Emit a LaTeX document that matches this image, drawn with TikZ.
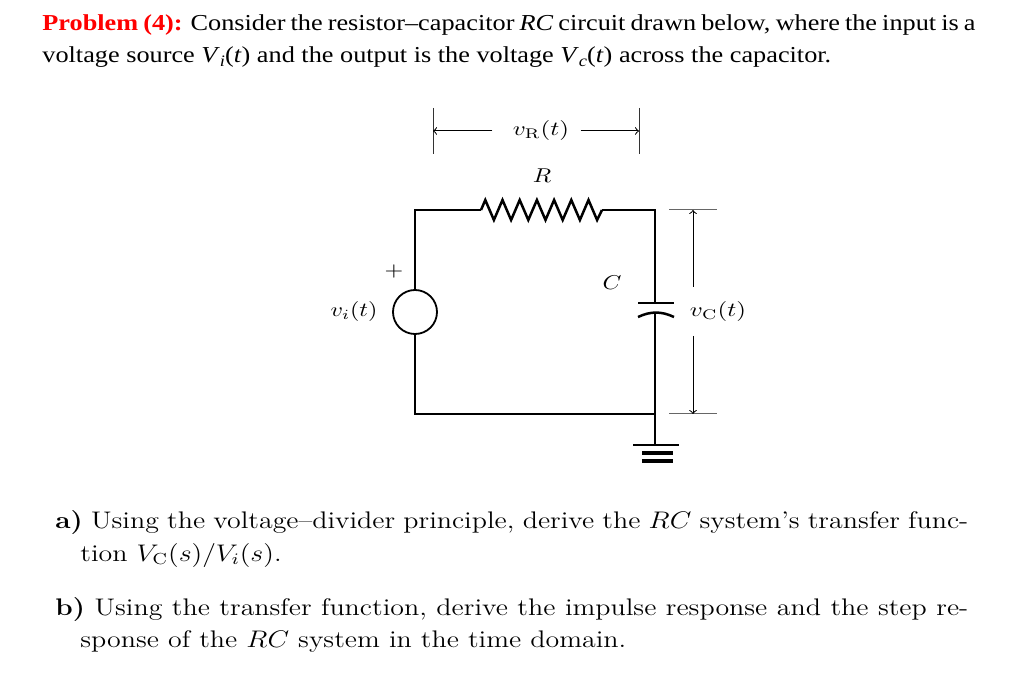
\documentclass[tikz,border=0pt]{standalone}
\usepackage{fontspec}
\usepackage{graphicx}
\usepackage{xcolor}
\usepackage{tikz}
\usepackage{amssymb}
\usepackage{mathtools}
\newfontfamily\headfont{Liberation Serif}
\newcommand\hv[1]{\textit{V}\raisebox{-0.3ex}{\fontsize{8}{8}\selectfont\textit{#1}}(\textit{t})}

\begin{document}
\begin{tikzpicture}[x=0.5pt,y=-0.5pt,
                        wire/.style={line width=1.25pt},
                        dim/.style={line width=0.5pt},
                        lbl/.style={inner sep=0pt, font=\fontsize{10}{12}\selectfont},
                        head/.style={anchor=base west, inner sep=0pt, font=\headfont\fontsize{11.4}{14}\selectfont},
                        txt/.style={anchor=base west, inner sep=0pt, font=\fontsize{12}{14}\selectfont}]
                        \useasboundingbox (0,0) rectangle (1024,700);
                        \fill[white] (0,0) rectangle (1024,700);

                        \node (h1) at (42,31) [head] {\scalebox{1.152}[1]{\makebox[405pt][s]{\textcolor{red}{\textbf{Problem (4):}} Consider the resistor–capacitor \textit{RC} circuit drawn below, where the input is a}}};
                        \node (h2) at (42,63) [head] {\scalebox{1.152}[1]{voltage source \hv{i} and the output is the voltage \hv{c} across the capacitor.}};

                        \foreach \n/\x/\y in {tl/415/210, tr/655/210, bl/415/414, br/655/414, ra/481/210, rb/602/210, cp/655/303, cq/655/313, gnd/655/445, dl/433/131, dr/639/131, ct/693/210, cb/693/414, cm/693/312} {
                            \coordinate (\n) at (\x, \y);
                        }

                        \node (src) at (415,312) [circle, draw, line width=0.9pt, minimum size=22pt, inner sep=0pt] {};

                        \draw[wire] (src.north) -- (tl) -- (ra);
                        \draw[wire] (ra) -- ++(4.3,-10) \foreach \k in {1,...,6} {-- ++(8.6,20) -- ++(8.6,-20)} -- ++(8.6,20) -- (rb);
                        \draw[wire] (rb) -- (tr) -- (cp);
                        \draw[wire] (cq) -- (br) -- (gnd);
                        \draw[wire] (src.south) -- (bl) -- (br);

                        \draw[wire] (cp) ++(-17,0) -- ++(36,0);
                        \draw[wire] (cq) ++(-17,4) to[bend left=25] ++(36,0);

                        \draw[wire] (gnd) ++(-22,0) -- ++(46,0);
                        \draw[line width=2pt] (gnd) ++(-13,8) -- ++(31,0);
                        \draw[line width=2pt] (gnd) ++(-13,16) -- ++(31,0);

                        \node (plus) at (394,272) [lbl] {\scalebox{1.2}[1]{$+$}};
                        \node (vi) at (354,312) [lbl] {\scalebox{1.2}[1]{$v_i(t)$}};
                        \node (cl) at (612,283) [lbl] {\scalebox{1.2}[1]{$C$}};
                        \node (rl) at (542,176) [lbl] {\scalebox{1.2}[1]{$R$}};

                        \node (vr) at (541,131) [lbl] {\scalebox{1.25}[1]{$v_\mathrm{R}(t)$}};
                        \draw[dim, black!80] (dl) ++(0,-23) -- ++(0,46);
                        \draw[dim, black!80] (dr) ++(0,-23) -- ++(0,46);
                        \draw[dim, ->] ([xshift=-10pt]vr.west) -- (dl);
                        \draw[dim, ->] ([xshift=5.5pt]vr.east) -- (dr);

                        \node (vc) at (718,312) [lbl] {\scalebox{1.25}[1]{$v_\mathrm{C}(t)$}};
                        \draw[dim, black!60] (ct) ++(-24,0) -- ++(48,0);
                        \draw[dim, black!60] (cb) ++(-24,0) -- ++(48,0);
                        \draw[dim, ->] ([yshift=12.5pt]cm) -- (ct);
                        \draw[dim, ->] ([yshift=-12pt]cm) -- (cb);

                        \node (a1) at (55,529) [txt] {\scalebox{1.165}[1]{\makebox[391.8pt][s]{\textbf{a)} Using the voltage–divider principle, derive the $RC$ system’s transfer func-}}};
                        \node (a2) at (80,561) [txt] {\scalebox{1.165}[1]{tion $V_\mathrm{C}(s)/V_i(s)$.}};
                        \node (b1) at (55,615) [txt] {\scalebox{1.165}[1]{\makebox[391.8pt][s]{\textbf{b)} Using the transfer function, derive the impulse response and the step re-}}};
                        \node (b2) at (80,647) [txt] {\scalebox{1.165}[1]{sponse of the $RC$ system in the time domain.}};
                    \end{tikzpicture}
\end{document}
